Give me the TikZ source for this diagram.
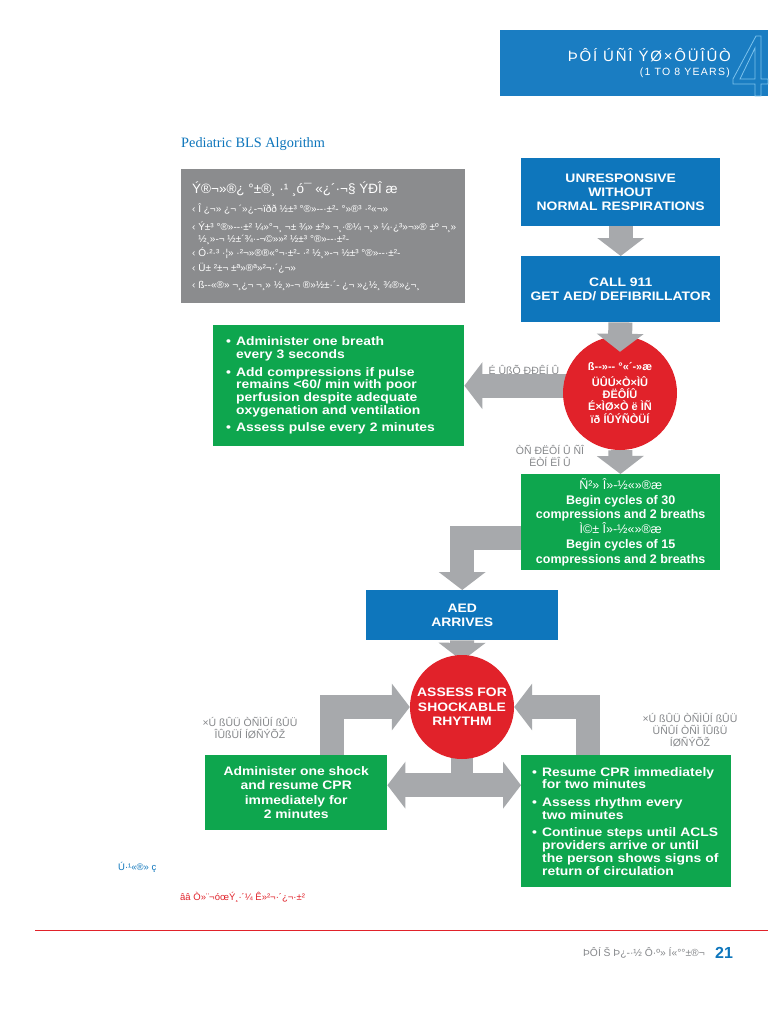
\documentclass[tikz,border=0pt]{standalone}
\usepackage{fontspec}
\setmainfont[Ligatures=TeXOff]{Liberation Sans}
\newfontfamily\wide[FakeStretch=1.13,Ligatures=TeXOff]{Liberation Sans}
\newfontfamily\headfont[LetterSpace=12,Ligatures=TeXOff]{Liberation Sans}
\newfontfamily\titlefont{Liberation Serif}
\usetikzlibrary{arrows.meta,calc,backgrounds,positioning}
\definecolor{bboxblue}{HTML}{0E76BC}
\definecolor{headblue}{HTML}{1A7DC2}
\definecolor{fourblue}{HTML}{7CC2EC}
\definecolor{stepgreen}{HTML}{0EA64E}
\definecolor{alertred}{HTML}{E1222A}
\definecolor{critgray}{HTML}{8B8C8E}
\definecolor{arrowgray}{HTML}{A7A9AC}
\definecolor{labelgray}{HTML}{85878A}
\newcommand\bul{\makebox[10pt][l]{•}}
\newcommand\ind{\hspace*{10pt}}
\tikzset{
  bluebox/.style={fill=bboxblue,text=white,anchor=north west,inner sep=0pt,align=center,font=\wide\bfseries\fontsize{12.3}{14}\selectfont},
  greenbox/.style={fill=stepgreen,text=white,anchor=north west,inner sep=0pt,font=\wide\bfseries\fontsize{12.3}{12.7}\selectfont},
  redcircle/.style={circle,fill=alertred,text=white,inner sep=0pt,align=center,font=\wide\bfseries\fontsize{12.3}{14.5}\selectfont},
  blockarrow/.style={draw=arrowgray,line width=24pt,line join=miter,-{Triangle[width=46pt,length=18pt]}},
  branchlabel/.style={text=labelgray,align=center,inner sep=0pt,font=\fontsize{10.5}{12}\selectfont},
  critline/.style={text=white,anchor=west,inner sep=0pt,font=\fontsize{10}{12}\selectfont},
}
\begin{document}
\begin{tikzpicture}[x=1pt,y=-1pt]
\useasboundingbox (0,0) rectangle (768,1024);
\fill[headblue] (500,30) rectangle (768,96);
\draw[fourblue,line width=0.8pt,line join=miter] (756,36) -- (733,79) -- (733,84) -- (755,84) -- (755,96) -- (761,96) -- (761,84) -- (768,84) -- (768,79) -- (761,79) -- (761,36) -- cycle (755,48) -- (740,79) -- (755,79) -- cycle;
\node[anchor=east,text=white,inner sep=0pt,font=\headfont\fontsize{15}{17}\selectfont] (bls) at (731,55) {ÞÔÍ ÚÑÎ ÝØ×ÔÜÎÛÒ};
\node[anchor=east,text=white,inner sep=0pt,font=\headfont\fontsize{10.5}{12}\selectfont] (ages) at (730,73) {(1 TO 8 YEARS)};
\node[anchor=west,text=bboxblue,inner sep=0pt,font=\titlefont\fontsize{14.3}{16}\selectfont] (algo) at (181,144) {Pediatric BLS Algorithm};

\node[fill=critgray,anchor=north west,minimum width=284pt,minimum height=134pt,inner sep=0pt] (crit) at (181,169) {};
\node[critline,font=\fontsize{13.5}{15}\selectfont] (crittitle) at (192,189) {Ý®¬»®¿ °±®¸ ·¹ ¸ó¯ «¿´·¬§ ÝÐÎ æ};
\foreach \ypos/\txt [count=\i] in {209/‹ Î ¿¬» ¿¬ ´»¿-¬ïðð ½±³ °®»--·±²- °»®³ ·²«¬»,
    227/‹ Ý±³ °®»--·±² ¼»°¬¸ ¬± ¾» ±²» ¬¸·®¼ ¬¸» ¼·¿³»¬»® ±º ¬¸»,
    240/\phantom{‹ }½¸»-¬ ½±´¾·-¬©»»² ½±³ °®»--·±²-,
    253/‹ Ó·²·³ ·¦» ·²¬»®®«°¬·±²- ·² ½¸»-¬ ½±³ °®»--·±²-,
    268/‹ Ü± ²±¬ ±ª»®ª»²¬·´¿¬»,
    286/‹ ß--«®» ¬¸¿¬ ¬¸» ½¸»-¬ ®»½±·´- ¿¬ »¿½¸ ¾®»¿¬¸}
  \node[critline] (crit\i) at (192,\ypos) {\txt};

\node[bluebox,minimum width=199pt,minimum height=68pt] (unresp) at (521,158) {UNRESPONSIVE\\WITHOUT\\NORMAL RESPIRATIONS};
\node[bluebox,minimum width=199pt,minimum height=66pt] (call) at (521,256) {CALL 911\\GET AED/ DEFIBRILLATOR};
\node[redcircle,minimum size=114pt,font=\bfseries\fontsize{11}{12.3}\selectfont] (pulse) at (620,393) {ß--»-- °«´-»æ\\[3pt]ÜÛÚ×Ò×ÌÛ\\ÐËÔÍÛ\\É×ÌØ×Ò ë ÌÑ\\ïð ÍÛÝÑÒÜÍ};
\node[greenbox,minimum width=251pt,minimum height=121pt,inner xsep=13pt,text width=225pt,align=left] (breath) at (213,325)
  {\bul Administer one breath\\\ind every 3 seconds\\[5pt]
   \bul Add compressions if pulse\\\ind remains <60/ min with poor\\\ind perfusion despite adequate\\\ind oxygenation and ventilation\\[5pt]
   \bul Assess pulse every 2 minutes};
\node[greenbox,minimum width=199pt,minimum height=96pt,align=center,font=\bfseries\fontsize{12.5}{14.8}\selectfont] (cycles) at (521,474)
  {{\mdseries Ñ²» Î»-½«»®æ}\\Begin cycles of 30\\compressions and 2 breaths\\{\mdseries Ì©± Î»-½«»®æ}\\Begin cycles of 15\\compressions and 2 breaths};
\node[bluebox,minimum width=192pt,minimum height=50pt] (aed) at (366,590) {AED\\ARRIVES};
\node[redcircle,minimum size=104pt] (rhythm) at (462,707) {ASSESS FOR\\SHOCKABLE\\RHYTHM};
\node[greenbox,minimum width=182pt,minimum height=75pt,align=center,font=\wide\bfseries\fontsize{12.3}{14.3}\selectfont] (shock) at (205,755)
  {Administer one shock\\and resume CPR\\immediately for\\2 minutes};
\node[greenbox,minimum width=210pt,minimum height=132pt,inner xsep=11pt,text width=188pt,align=left] (resume) at (521,755)
  {\bul Resume CPR immediately\\\ind for two minutes\\[5pt]
   \bul Assess rhythm every\\\ind two minutes\\[5pt]
   \bul Continue steps until ACLS\\\ind providers arrive or until\\\ind the person shows signs of\\\ind return of circulation};

\begin{scope}[on background layer]
\fill[white] (0,0) rectangle (768,1024);
\draw[blockarrow] (unresp) -- (call);
\draw[blockarrow] (pulse.center |- breath) -- (breath);
\draw[blockarrow] (pulse) -- (cycles);
\coordinate (turn) at ($(cycles.south west)+(0,-32)$);
\draw[blockarrow] (turn) -| (aed);
\draw[blockarrow] (aed) -- ($(rhythm.north)+(0,6)$);
\coordinate (shockup) at ($(shock.north west)+(127,0)$);
\draw[blockarrow] (shockup) |- (rhythm);
\coordinate (resumeup) at ($(resume.north west)+(67,0)$);
\draw[blockarrow] (resumeup) |- (rhythm);
\coordinate (split) at ($(rhythm.south)+(0,26)$);
\draw[draw=arrowgray,line width=22pt] (rhythm.center) -- (split);
\draw[blockarrow,{Triangle[width=46pt,length=18pt]}-{Triangle[width=46pt,length=18pt]}] (shock.east |- split) -- (resume.west |- split);
\end{scope}
\draw[blockarrow] (call) -- ($(pulse.north)+(0,16)$);

\node[branchlabel] (weak) at (524,370) {É ÛßÕ ÐÐÊÍ Û};
\node[branchlabel] (nopulse) at (550,456) {ÒÑ ÐËÔÍ Û ÑÎ\\ËÒÍ ËÎ Û};
\node[branchlabel] (shockyes) at (250,728) {×Ú ßÛÜ ÒÑÌÛÍ ßÛÜ\\ÎÛßÜÍ ÍØÑÝÕŽ};
\node[branchlabel] (shockno) at (690,730) {×Ú ßÛÜ ÒÑÌÛÍ ßÛÜ\\ÜÑÛÍ ÒÑÌ ÎÛßÜ\\ÍØÑÝÕŽ};

\node[anchor=west,text=bboxblue,inner sep=0pt,font=\fontsize{9.5}{11}\selectfont] (fig) at (118,867) {Ú·¹«®» ç};
\node[anchor=west,text=alertred,inner sep=0pt,font=\fontsize{9.5}{11}\selectfont] (next) at (180,897) {ââ Ò»¨¬óœÝ¸·´¼ Ê»²¬·´¿¬·±²};
\draw[alertred,line width=0.6pt] (35,930) -- (768,930);
\node[anchor=east,text=labelgray,inner sep=0pt,font=\fontsize{10.3}{12}\selectfont] (book) at (705,953) {ÞÔÍ Š Þ¿-·½ Ô·º» Í«°°±®¬};
\node[right=10pt of book,text=bboxblue,inner sep=0pt,font=\bfseries\fontsize{16}{18}\selectfont] (page) {21};
\end{tikzpicture}
\end{document}
